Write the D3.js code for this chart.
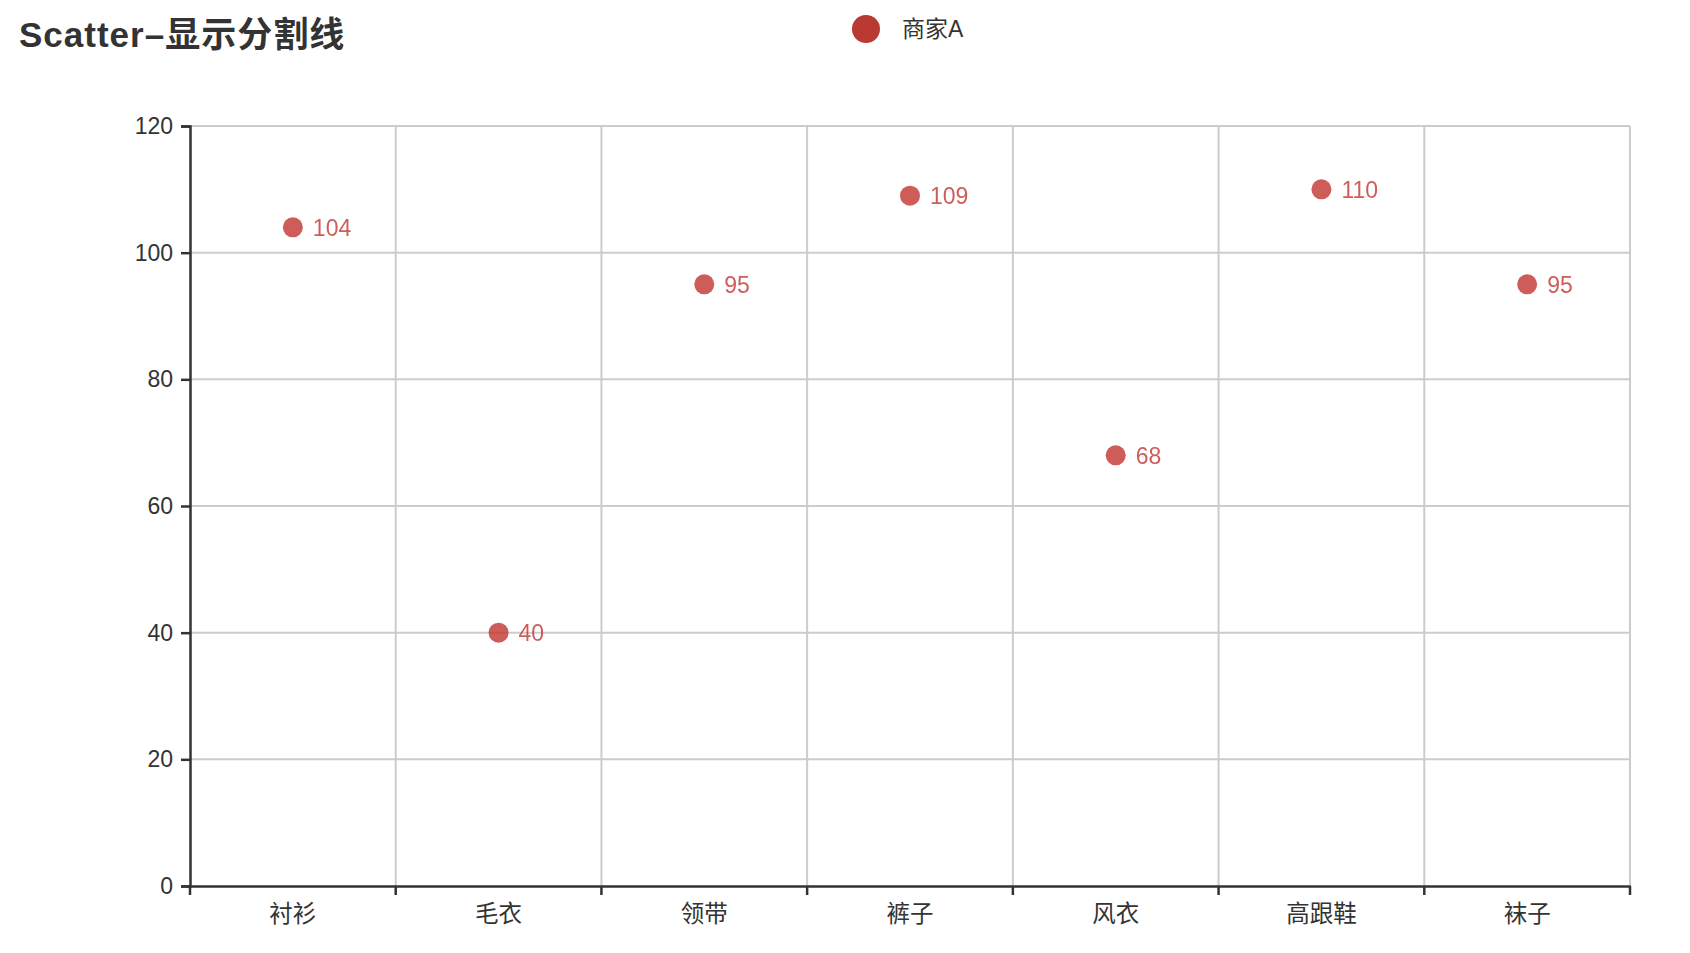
<!DOCTYPE html>
<html>
<head>
<meta charset="utf-8">
<script src="https://cdn.jsdelivr.net/npm/d3@7"></script>
<style>
  html, body { margin: 0; padding: 0; background: #fff; }
  #container { width: 1690px; height: 953px; }
  text { font-family: "Liberation Sans", "Noto Sans CJK SC", sans-serif; }
</style>
</head>
<body>
<div id="container"></div>
<script>
const categories = ["衬衫", "毛衣", "领带", "裤子", "风衣", "高跟鞋", "袜子"];
const values = [104, 40, 95, 109, 68, 110, 95];
const yTicks = [0, 20, 40, 60, 80, 100, 120];
const seriesName = "商家A";
const title = "Scatter–显示分割线";

const width = 1690;
const height = 953;
const margin = { top: 126, right: 60, bottom: 67, left: 190 };
const color = "#c23531";

const svg = d3.select("#container").append("svg")
  .attr("width", width)
  .attr("height", height);

const x = d3.scaleBand()
  .domain(categories)
  .range([margin.left, width - margin.right]);

const y = d3.scaleLinear()
  .domain([0, 120])
  .range([height - margin.bottom, margin.top]);

// split lines
const grid = svg.append("g")
  .attr("stroke", "#ccc")
  .attr("stroke-width", 2);

grid.selectAll("line.h")
  .data(yTicks.slice(1))
  .join("line")
  .attr("class", "h")
  .attr("x1", margin.left)
  .attr("x2", width - margin.right)
  .attr("y1", (d) => y(d))
  .attr("y2", (d) => y(d));

const bounds = categories.map((c) => x(c) + x.bandwidth());
grid.selectAll("line.v")
  .data(bounds)
  .join("line")
  .attr("class", "v")
  .attr("x1", (d) => d)
  .attr("x2", (d) => d)
  .attr("y1", margin.top)
  .attr("y2", height - margin.bottom);

// y axis
const yAxis = svg.append("g")
  .attr("transform", `translate(${margin.left},0)`)
  .call(d3.axisLeft(y).tickValues(yTicks).tickSize(9).tickPadding(8));
yAxis.select(".domain").attr("stroke", "#333").attr("stroke-width", 2.5);
yAxis.selectAll(".tick line").attr("stroke", "#333").attr("stroke-width", 2.5);
yAxis.selectAll(".tick text")
  .attr("fill", "#333")
  .attr("font-size", 23);

// x axis
const xAxis = svg.append("g")
  .attr("transform", `translate(0,${height - margin.bottom})`)
  .call(d3.axisBottom(x).tickSize(0).tickPadding(19));
xAxis.select(".domain").attr("stroke", "#333").attr("stroke-width", 2.5);
xAxis.selectAll(".tick text")
  .attr("fill", "#333")
  .attr("font-size", 23.5);

// category boundary ticks
svg.append("g")
  .attr("stroke", "#333")
  .attr("stroke-width", 2.5)
  .selectAll("line")
  .data([margin.left, ...bounds])
  .join("line")
  .attr("x1", (d) => d)
  .attr("x2", (d) => d)
  .attr("y1", height - margin.bottom)
  .attr("y2", height - margin.bottom + 9);

// points
const pts = svg.append("g")
  .attr("opacity", 0.8)
  .selectAll("g")
  .data(values)
  .join("g")
  .attr("transform", (d, i) => `translate(${x(categories[i]) + x.bandwidth() / 2},${y(d)})`);

pts.append("circle")
  .attr("r", 10)
  .attr("fill", color);

pts.append("text")
  .attr("x", 20)
  .attr("dy", "0.36em")
  .attr("fill", color)
  .attr("font-size", 23)
  .text((d) => d);

// title
svg.append("text")
  .attr("x", 19)
  .attr("y", 47)
  .attr("fill", "#333")
  .attr("font-size", 35)
  .attr("letter-spacing", 1)
  .attr("font-weight", "bold")
  .text(title);

// legend
svg.append("circle")
  .attr("cx", 866)
  .attr("cy", 29)
  .attr("r", 14)
  .attr("fill", "#b93a33");

svg.append("text")
  .attr("x", 902)
  .attr("y", 29)
  .attr("dy", "0.36em")
  .attr("fill", "#333")
  .attr("font-size", 23)
  .text(seriesName);
</script>
</body>
</html>
